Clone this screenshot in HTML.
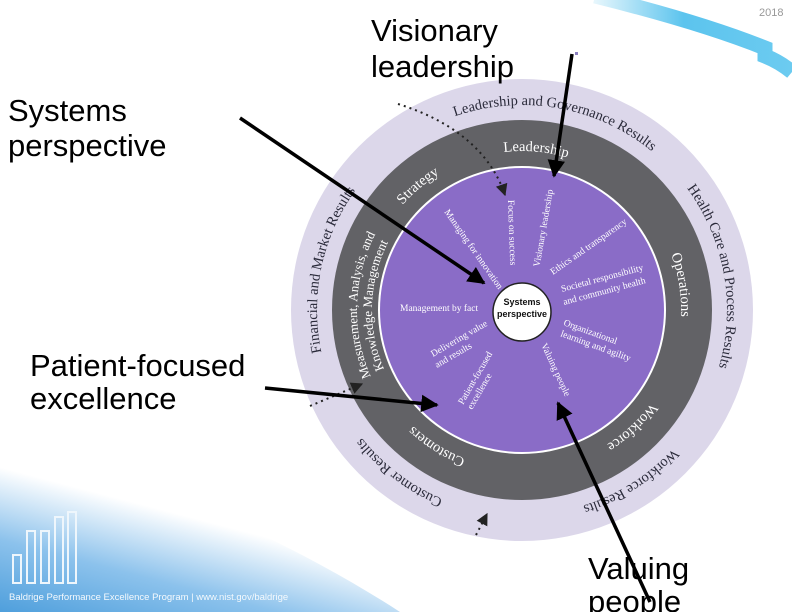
<!DOCTYPE html>
<html><head><meta charset="utf-8"><style>
html,body{margin:0;padding:0;width:792px;height:612px;overflow:hidden;background:#fff}
svg{display:block}
</style></head><body>
<svg width="792" height="612" viewBox="0 0 792 612" xmlns="http://www.w3.org/2000/svg" font-family="Liberation Sans, sans-serif">
<defs>
<linearGradient id="bg" x1="0" y1="1" x2="0.35" y2="0.4">
<stop offset="0" stop-color="#4f9fdc"/><stop offset="0.5" stop-color="#8cc2ec"/><stop offset="1" stop-color="#ffffff"/>
</linearGradient>
<linearGradient id="tb" x1="0" y1="0" x2="1" y2="0">
<stop offset="0" stop-color="#e6f6fc"/><stop offset="0.45" stop-color="#5cc4ee"/><stop offset="1" stop-color="#6ccbf0"/>
</linearGradient>
<path id="c1" d="M522,515 A205,205 0 1 1 522,105 A205,205 0 1 1 522,515"/>
<path id="c2" d="M522,469 A159,159 0 1 1 522,151 A159,159 0 1 1 522,469"/>
<path id="m1" d="M522,475 A165,165 0 1 1 522,145 A165,165 0 1 1 522,475"/>
<path id="m2" d="M522,460 A150,150 0 1 1 522,160 A150,150 0 1 1 522,460"/>
<marker id="ah" viewBox="0 0 10 10" refX="9" refY="5" markerWidth="5" markerHeight="5" orient="auto"><path d="M0,0L10,5L0,10z" fill="#000"/></marker>
<marker id="ah2" viewBox="0 0 10 10" refX="9" refY="5" markerWidth="6" markerHeight="6" orient="auto"><path d="M0,0L10,5L0,10z" fill="#222"/></marker>
</defs>
<!-- background -->
<path d="M0,432 C130,470 290,540 400,612 L0,612 Z" fill="url(#bg)"/>
<path d="M595,-4 Q700,22 765,48 L765,56 Q780,62 792,72" fill="none" stroke="url(#tb)" stroke-width="15"/>
<g fill="none" stroke="#eef6fc" stroke-width="2">
<rect x="13" y="555" width="8" height="28"/><rect x="27" y="531" width="8" height="52"/><rect x="41" y="531" width="8" height="52"/><rect x="55" y="517" width="8" height="66"/><rect x="68" y="512" width="8" height="71"/>
</g>
<text x="9" y="600" font-size="9.5" fill="#f4f9fd">Baldrige Performance Excellence Program | www.nist.gov/baldrige</text>
<text x="759" y="16" font-size="11" fill="#999">2018</text>
<!-- circles -->
<circle cx="522" cy="310" r="231" fill="#dcd7ea"/>
<circle cx="522" cy="310" r="190" fill="#626266"/>
<circle cx="522" cy="310" r="144" fill="#fff"/>
<circle cx="522" cy="310" r="142" fill="#8a6cc7"/>
<circle cx="522" cy="312" r="29" fill="#fff" stroke="#222" stroke-width="1.5"/>
<text x="522" y="305" font-size="9" font-weight="bold" text-anchor="middle" fill="#111">Systems</text>
<text x="522" y="317" font-size="9" font-weight="bold" text-anchor="middle" fill="#111">perspective</text>
<!-- outer ring labels -->
<g font-family="Liberation Serif, serif" font-size="14.5" fill="#2a2a3a" text-anchor="middle">
<text><textPath href="#c1" startOffset="52.8%">Leadership and Governance Results</textPath></text>
<text><textPath href="#c1" startOffset="72.2%">Health Care and Process Results</textPath></text>
<text><textPath href="#c1" startOffset="91%">Workforce Results</textPath></text>
<text><textPath href="#c1" startOffset="10.3%">Customer Results</textPath></text>
<text><textPath href="#c1" startOffset="28.3%">Financial and Market Results</textPath></text>
</g>
<g font-family="Liberation Serif, serif" font-size="14.5" fill="#fff" text-anchor="middle">
<text><textPath href="#c2" startOffset="51.4%">Leadership</textPath></text>
<text><textPath href="#c2" startOffset="38.9%">Strategy</textPath></text>
<text><textPath href="#c2" startOffset="72.5%">Operations</textPath></text>
<text><textPath href="#c2" startOffset="88%">Workforce</textPath></text>
<text><textPath href="#c2" startOffset="8.9%">Customers</textPath></text>
<text font-size="13"><textPath href="#m1" startOffset="25.5%">Measurement, Analysis, and</textPath></text>
<text font-size="13"><textPath href="#m2" startOffset="25.5%">Knowledge Management</textPath></text>
</g>
<!-- inner labels -->
<g font-family="Liberation Serif, serif" font-size="9.5" fill="#fff">
<text x="400" y="311">Management by fact</text>
<text transform="translate(444,212) rotate(55)">Managing for innovation</text>
<text transform="translate(508,200) rotate(88)">Focus on success</text>
<text transform="translate(553,190) rotate(-80)" text-anchor="end">Visionary leadership</text>
<text transform="translate(553,275) rotate(-35)">Ethics and transparency</text>
<text transform="translate(562,292) rotate(-15)">Societal responsibility</text>
<text transform="translate(564,305) rotate(-15)">and community health</text>
<text transform="translate(563,325) rotate(20)">Organizational</text>
<text transform="translate(560,336) rotate(20)">learning and agility</text>
<text transform="translate(541,345) rotate(65)">Valuing people</text>
<text transform="translate(433,357) rotate(-30)">Delivering value</text>
<text transform="translate(437,368) rotate(-30)">and results</text>
<text transform="translate(463,405) rotate(-60)">Patient-focused</text>
<text transform="translate(472,410) rotate(-60)">excellence</text>
</g>
<!-- dotted arrows -->
<path d="M398,104 C450,120 490,150 505,195" fill="none" stroke="#222" stroke-width="2" stroke-dasharray="2,4" marker-end="url(#ah2)"/>
<path d="M310,406 L362,384" fill="none" stroke="#222" stroke-width="2" stroke-dasharray="2,4" marker-end="url(#ah2)"/>
<path d="M476,535 L487,514" fill="none" stroke="#222" stroke-width="2" stroke-dasharray="2,4" marker-end="url(#ah2)"/>
<!-- black arrows -->
<g stroke="#000" stroke-width="3.5" marker-end="url(#ah)">
<line x1="240" y1="118" x2="484" y2="283"/>
<line x1="572" y1="54" x2="554" y2="176"/>
<line x1="265" y1="388" x2="437" y2="405"/>
<line x1="650" y1="602" x2="558" y2="403"/>
</g>
<rect x="575" y="52" width="3" height="3" fill="#8b7fc0"/>
<!-- callout texts -->
<g font-size="31" fill="#000">
<text x="371" y="41">Visionary</text>
<text x="371" y="77">leadership</text>
<text x="8" y="121">Systems</text>
<text x="8" y="156">perspective</text>
<text x="30" y="376">Patient-focused</text>
<text x="30" y="409">excellence</text>
<text x="588" y="579">Valuing</text>
<text x="588" y="612">people</text>
</g>
</svg>
</body></html>
